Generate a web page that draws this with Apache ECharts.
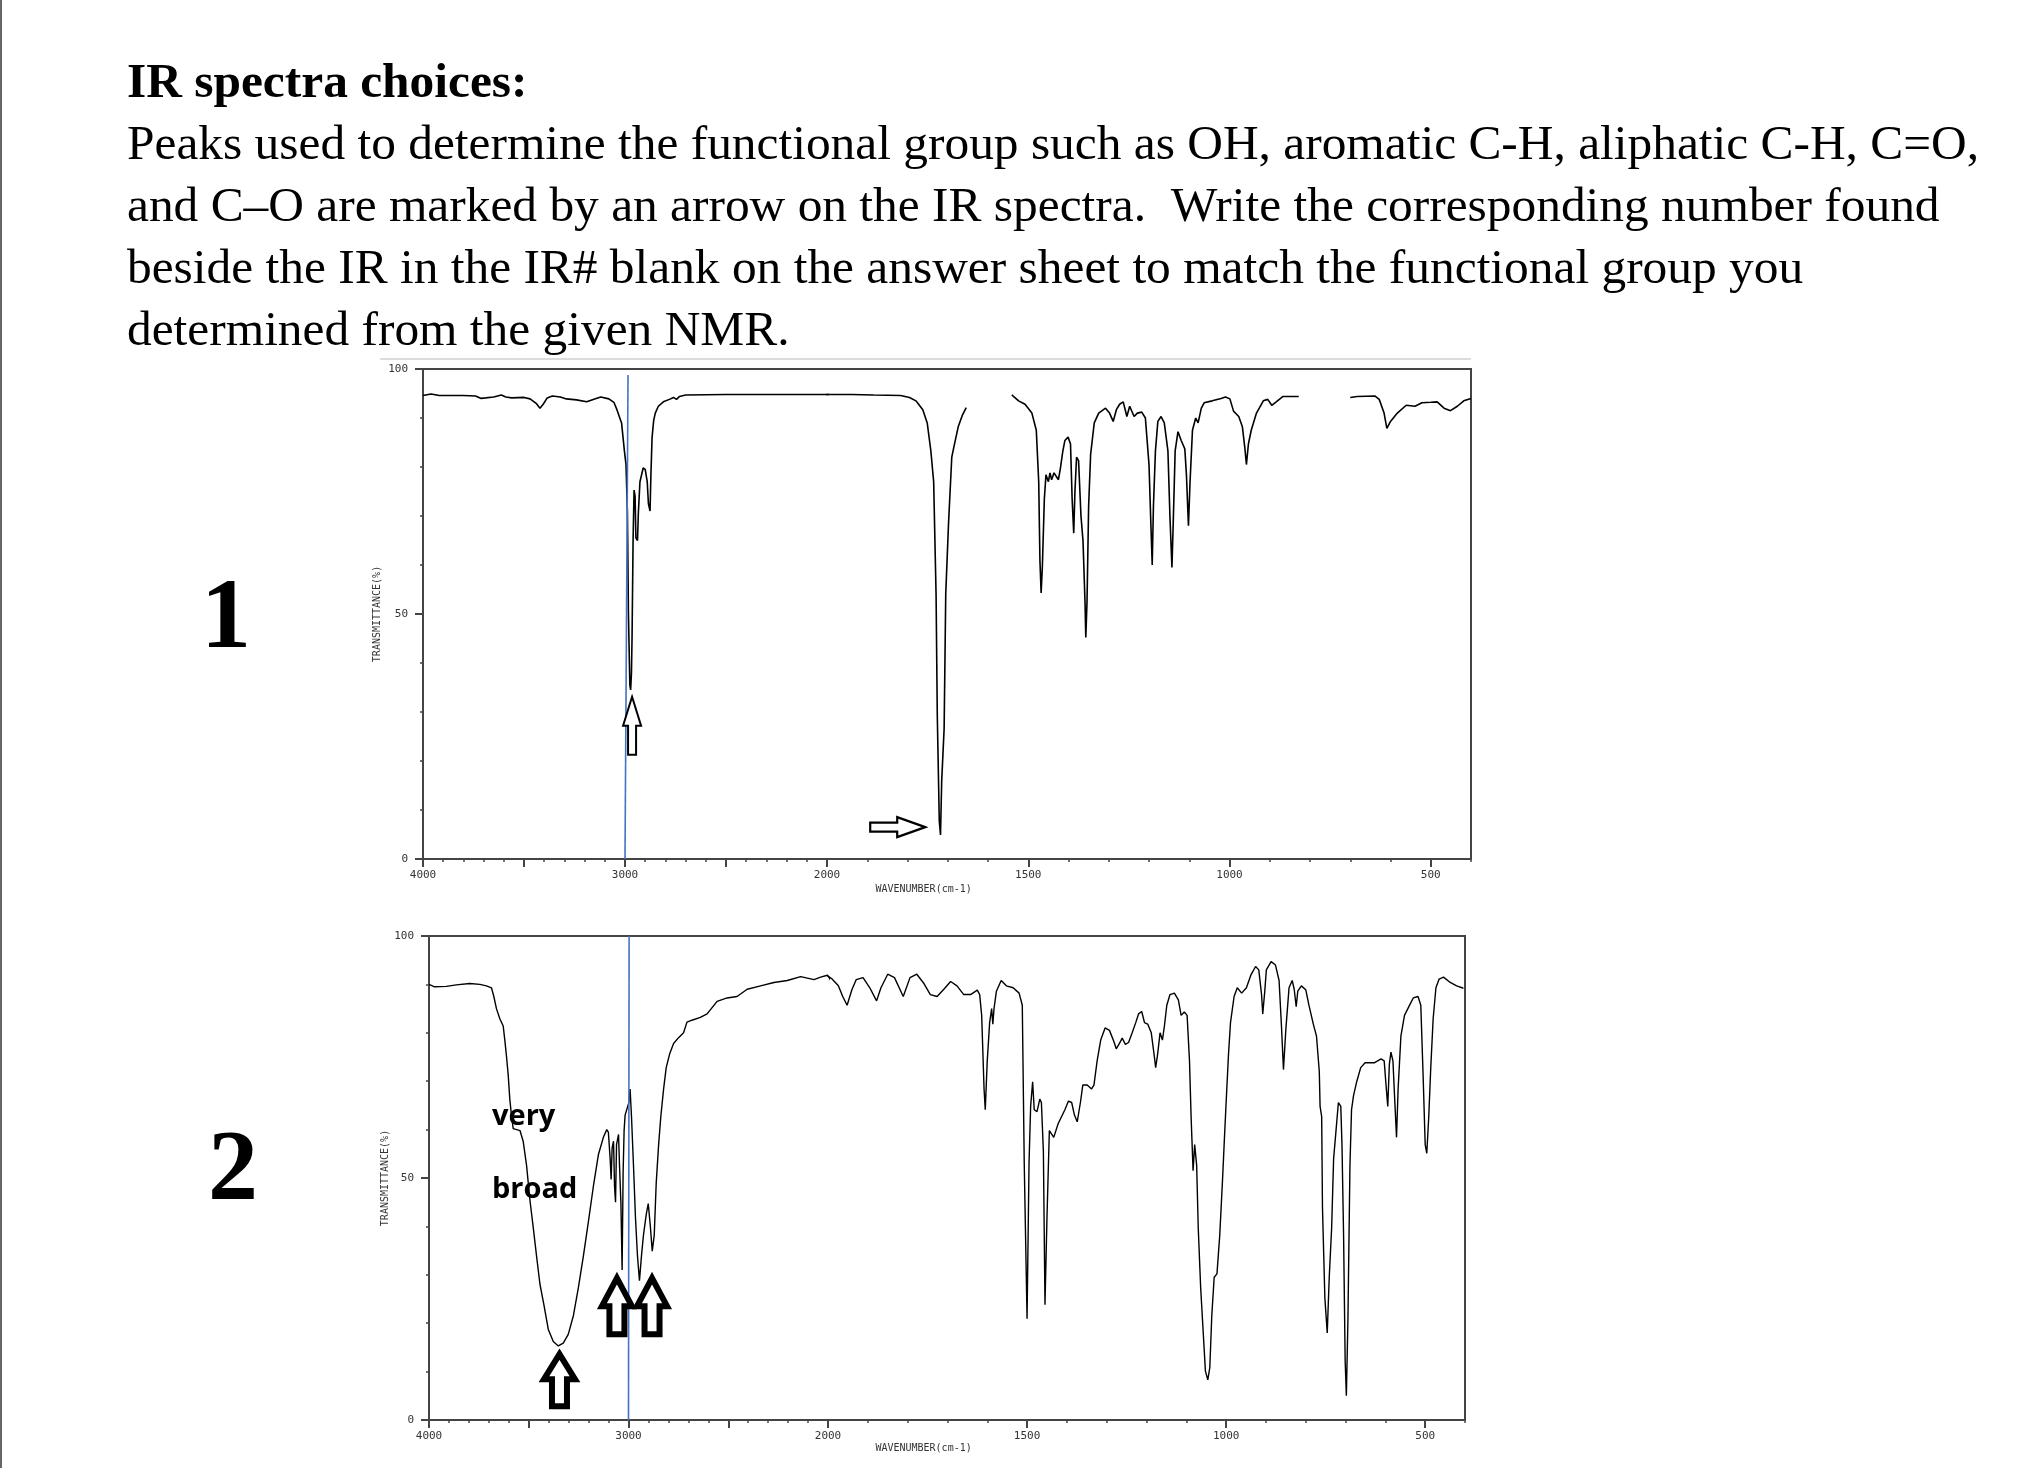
<!DOCTYPE html>
<html><head><meta charset="utf-8">
<script src="https://cdn.jsdelivr.net/npm/echarts@6/dist/echarts.min.js"></script>
<style>html,body{margin:0;padding:0;background:#fff}#c{width:2024px;height:1468px}</style>
</head><body><div id="c"></div>
<script>
// ---------------- DATA ----------------
// IR spectrum 1 (wavenumber cm-1, %T); null = gap in trace
const ir1Wavenumber = [4000,3960,3920,3800,3740,3712,3690,3650,3612,3590,3560,3500,3470,3440,3421,3405,3385,3360,3320,3290,3240,3190,3150,3120,3080,3055,3040,3017,3003,2995,2988,2983,2976,2972,2968,2965,2960,2955,2950,2946,2938,2934,2926,2910,2900,2890,2884,2876,2872,2866,2858,2850,2835,2810,2780,2760,2745,2730,2700,2500,2300,2100,2000,
1939,1884,1817,1795,1779,1762,1751,1742,1735,1729,1726,1721,1718,1715,1709,1705,1698,1690,1685,1674,1663,1654,1600,
1541,1524,1508,1491,1480,1474,1471,1468,1465,1460,1456,1450,1446,1442,1436,1425,1420,1414,1409,1401,1395,1391,1387,1384,1380,1375,1369,1364,1359,1357,1354,1350,1345,1336,1325,1308,1298,1289,1281,1273,1264,1255,1248,1237,1229,1218,1209,1200,1196,1192,1189,1184,1178,1170,1162,1153,1148,1143,1140,1135,1128,1120,1111,1107,1102,1098,1092,1084,1078,1070,1063,1043,1021,1010,999,990,977,968,962,958,953,946,933,916,905,895,884,867,828,770,
700,683,639,628,616,609,600,583,561,539,522,500,484,467,451,434,418,400];
const ir1Transmittance = [94.6,94.9,94.6,94.6,94.5,94.0,94.1,94.3,94.7,94.3,94.1,94.2,93.9,93.0,92.0,92.8,94.1,94.5,94.3,93.9,93.7,93.3,93.9,94.3,93.9,93.2,91.7,89.0,83.3,80.5,70.7,50.0,35.5,34.5,38.0,45.5,65.0,75.3,74.0,65.5,65.0,70.5,77.0,79.8,79.5,77.0,72.5,71.0,78.0,86.0,89.5,91.0,92.4,93.3,93.8,94.2,93.8,94.4,94.7,94.8,94.8,94.8,94.8,
94.8,94.7,94.6,94.2,93.5,91.7,89.0,83.3,77.0,54.0,29.4,7.7,4.9,16.0,26.6,54.0,68.6,82.0,84.0,88.2,90.7,92.1,null,
94.7,93.5,92.8,91.0,87.5,77.0,61.0,54.3,59.5,73.5,78.4,77.0,78.8,77.4,78.8,77.4,79.8,83.3,85.4,86.1,84.7,73.5,66.5,75.0,82.0,81.3,70.0,65.0,52.5,45.2,52.5,72.0,82.6,89.0,91.0,92.0,91.0,89.3,91.7,92.8,93.3,90.3,92.4,90.3,91.0,91.2,90.0,80.5,70.0,60.0,72.0,83.3,89.3,90.3,89.0,83.3,70.0,59.5,68.0,83.3,87.2,85.4,83.7,78.4,68.0,77.0,87.5,90.0,89.0,92.0,93.1,93.5,94.0,94.3,93.9,91.4,90.3,88.2,84.0,80.5,84.7,87.5,91.0,93.5,93.8,92.6,93.3,94.4,94.4,null,
94.2,94.4,94.5,93.8,91.0,87.9,89.3,91.0,92.6,92.4,93.1,93.2,93.3,92.0,91.5,92.4,93.5,94.0];

// IR spectrum 2
const ir2Wavenumber = [4000,3972,3913,3863,3796,3745,3712,3687,3675,3662,3645,3628,3620,3611,3603,3595,3586,3578,3570,3544,3528,3511,3494,3477,3461,3444,3424,3402,3377,3352,3327,3302,3276,3251,3226,3201,3176,3151,3126,3109,3101,3092,3087,3082,3075,3070,3065,3060,3050,3045,3038,3032,3027,3022,3017,3008,2998,2992,2985,2975,2965,2955,2945,2935,2925,2911,2901,2891,2881,2871,2861,2849,2838,2824,2811,2794,2774,2749,2724,2707,2682,2640,2606,2556,2506,2456,2405,2338,2271,2204,2137,2070,2037,2003,
1991,1974,1963,1952,1940,1929,1912,1895,1878,1867,1850,1833,1811,1794,1777,1760,1743,1726,1709,1692,1676,1659,1642,1625,1619,1614,1608,1605,1600,1594,1589,1586,1583,1577,1565,1552,1535,1520,1512,1507,1500,1495,1491,1486,1482,1475,1468,1464,1459,1455,1450,1444,1439,1433,1422,1405,1396,1388,1381,1374,1366,1360,1349,1338,1332,1324,1315,1304,1293,1282,1276,1268,1261,1253,1245,1236,1227,1220,1212,1205,1197,1188,1180,1177,1172,1166,1160,1155,1149,1141,1130,1120,1113,1105,1098,1092,1088,1083,1079,1074,1070,1064,1059,1052,1046,1041,1036,1030,1023,1016,1009,1005,1000,994,989,980,972,961,949,938,926,918,911,908,903,899,887,876,867,861,856,850,842,834,829,824,820,811,800,792,781,773,766,764,760,758,752,746,741,735,730,724,718,712,709,705,701,698,694,689,685,680,672,662,651,628,611,603,599,594,590,586,581,577,572,568,561,552,541,530,518,511,505,500,496,491,486,480,473,465,454,437,421,404];
const ir2Transmittance = [90.0,89.5,89.6,89.9,90.2,90.0,89.7,89.3,87.5,85.0,82.9,81.4,78.5,74.9,71.3,66.3,62.7,60.2,59.8,59.8,57.6,52.6,45.4,39.6,33.9,28.1,23.8,18.7,16.2,15.3,15.9,17.7,21.6,27.4,33.9,41.0,48.3,54.8,58.4,60.0,59.5,54.0,49.7,56.2,57.6,48.3,45.0,56.9,59.0,52.6,44.7,31.0,51.2,59.8,63.0,63.2,65.6,68.4,62.7,52.6,41.8,33.9,28.8,33.9,38.2,42.5,44.7,40.3,34.9,38.2,49.0,56.9,62.7,68.4,72.8,75.6,77.8,79.0,80.0,82.2,82.6,83.2,83.9,86.5,87.2,87.5,89.0,89.7,90.4,90.8,91.6,91.0,91.5,91.9,
91.2,89.7,87.5,85.7,88.9,91.0,91.4,89.3,86.6,89.3,92.1,91.4,87.5,91.4,92.1,90.3,87.9,87.5,89.0,90.6,89.7,87.9,87.9,88.8,87.9,83.6,68.4,64.1,74.2,82.1,85.0,81.8,85.0,88.6,90.8,89.7,89.3,88.2,85.7,52.6,20.9,53.3,64.8,69.9,64.1,63.7,66.3,65.6,55.5,23.8,41.8,59.8,60.2,58.4,61.2,64.1,65.9,65.6,63.0,61.6,65.6,69.2,69.2,68.4,69.2,74.2,78.5,81.0,80.5,78.2,76.7,77.8,78.9,77.6,78.0,80.0,82.1,83.9,84.4,82.1,81.8,80.0,74.9,72.8,75.6,80.0,78.5,81.4,85.7,87.9,88.2,86.8,83.6,84.3,83.6,74.2,62.7,51.5,56.9,52.6,39.6,27.4,20.2,10.1,8.3,10.8,21.6,29.5,30.2,38.2,49.7,56.9,65.6,75.6,82.1,87.5,89.3,88.2,89.3,91.9,93.7,93.0,87.9,83.9,88.5,93.0,94.7,94.0,90.8,81.4,72.4,80.7,89.3,90.8,89.0,85.4,88.6,89.7,88.9,85.7,81.8,79.3,72.0,64.8,62.7,43.9,25.2,18.0,29.5,39.6,54.0,59.8,65.6,64.8,56.9,38.2,12.2,5.0,20.9,52.6,64.1,67.0,69.9,72.8,73.8,73.8,74.6,74.2,69.9,64.8,73.5,76.0,74.2,67.0,58.4,68.4,79.3,83.6,85.4,87.2,87.5,85.7,70.6,56.9,55.1,62.7,72.8,82.9,89.3,91.1,91.5,90.4,89.7,89.2];

// axis ticks / labels
const xLabelsLeft = [4000, 3000, 2000];
const xLabelsRight = [1500, 1000, 500];
const xMajorTicksLeft = [4000, 3500, 3000, 2500, 2000];
const xMajorTicksRight = [2000, 1500, 1000, 500];
const yLabels = [0, 50, 100];
const yMajorTicks = [0, 50, 100];

// blue reference lines (wavenumber, %T endpoints)
const blueLine1 = [[2985, 98.8], [3000, 0]];
const blueLine2 = [[2997, 100], [3000, 0]];

// arrow tips (wavenumber, %T)
const arrowTips1Up = [[2965, 33.1]];
const arrowTips1Right = [[1756, 6.5]];
const arrowTips2Up = [[3346, 13.6], [3058, 29.3], [2882, 29.3]];

// texts
const titleLines = [
  'IR spectra choices:',
  'Peaks used to determine the functional group such as OH, aromatic C-H, aliphatic C-H, C=O,',
  'and C\u2013O are marked by an arrow on the IR spectra.  Write the corresponding number found',
  'beside the IR in the IR# blank on the answer sheet to match the functional group you',
  'determined from the given NMR.'
];
const spectrumNumbers = ['1', '2'];
const yAxisName = 'TRANSMITTANCE(%)';
const xAxisName = 'WAVENUMBER(cm-1)';
const noteWords = ['very', 'broad'];

// ---------------- CHART ----------------
const chart = echarts.init(document.getElementById('c'), null, {renderer: 'canvas', width: 2024, height: 1468});
const AX = '#444';
const LABEL_FONT = 'DejaVu Sans Mono';
const layouts = [
  {left: 423, top: 369, split: 827, right: 1471, bottom: 859, nameGap: 41, lw: 1.6},
  {left: 429, top: 936, split: 828, right: 1465, bottom: 1420, nameGap: 39, lw: 1.4}
];
const spectra = [
  ir1Wavenumber.map((w, i) => [w, ir1Transmittance[i]]),
  ir2Wavenumber.map((w, i) => [w, ir2Transmittance[i]])
];
const blues = [blueLine1, blueLine2];
const plainNum = v => String(v);

const grid = [], xAxis = [], yAxis = [], series = [];
const refs = [];
layouts.forEach((L, c) => {
  const h = L.bottom - L.top;
  const gF = grid.length;
  grid.push({left: L.left, top: L.top, width: L.right - L.left, height: h, show: true, borderColor: AX, borderWidth: 2, backgroundColor: 'transparent'});
  xAxis.push({gridIndex: gF, type: 'value', show: false, min: 0, max: 1});
  yAxis.push({gridIndex: gF, type: 'value', show: false, min: 0, max: 1});
  const segs = [
    {left: L.left, width: L.split - L.left, min: 2000, max: 4000, ticks: xMajorTicksLeft, labels: xLabelsLeft, isLeft: true},
    {left: L.split, width: L.right - L.split, min: 400, max: 2000, ticks: xMajorTicksRight, labels: xLabelsRight, isLeft: false}
  ];
  const ref = {};
  segs.forEach(s => {
    const g = grid.length;
    grid.push({left: s.left, top: L.top, width: s.width, height: h});
    const xi = xAxis.length;
    xAxis.push({
      gridIndex: g, type: 'value', min: s.min, max: s.max, inverse: true, position: 'bottom',
      axisLine: {show: true, onZero: false, lineStyle: {color: AX, width: 2}},
      axisTick: {show: true, customValues: s.ticks, length: 8, lineStyle: {color: AX, width: 2}},
      axisLabel: {show: true, customValues: s.labels, formatter: plainNum, margin: 11, fontFamily: LABEL_FONT, fontSize: 11, color: '#333'},
      splitLine: {show: false}
    });
    xAxis.push({
      gridIndex: g, type: 'value', min: s.min, max: s.max, inverse: true, position: 'bottom', interval: 100,
      axisLine: {show: false}, axisTick: {show: true, length: 3, lineStyle: {color: AX, width: 1.5}},
      axisLabel: {show: false}, splitLine: {show: false}
    });
    let yi;
    if (s.isLeft) {
      yi = yAxis.length;
      yAxis.push({
        gridIndex: g, type: 'value', min: 0, max: 100, position: 'left',
        axisLine: {show: true, onZero: false, lineStyle: {color: AX, width: 2}},
        axisTick: {show: true, customValues: yMajorTicks, length: 8, lineStyle: {color: AX, width: 2}},
        axisLabel: {show: true, customValues: yLabels, formatter: plainNum, margin: 15, fontFamily: LABEL_FONT, fontSize: 11, color: '#333'},
        splitLine: {show: false},
        name: yAxisName, nameLocation: 'middle', nameGap: L.nameGap, nameRotate: 90,
        nameTextStyle: {fontFamily: LABEL_FONT, fontSize: 10, color: '#333'}
      });
      yAxis.push({
        gridIndex: g, type: 'value', min: 0, max: 100, position: 'left', interval: 10,
        axisLine: {show: false}, axisTick: {show: true, length: 3, lineStyle: {color: AX, width: 1.5}},
        axisLabel: {show: false}, splitLine: {show: false}
      });
      ref.left = {x: xi, y: yi};
    } else {
      yi = yAxis.length;
      yAxis.push({gridIndex: g, type: 'value', min: 0, max: 100, show: false, splitLine: {show: false}});
      ref.right = {x: xi, y: yi};
    }
    const ser = {
      type: 'line', xAxisIndex: xi, yAxisIndex: yi, data: spectra[c],
      showSymbol: false, symbol: 'none', clip: true, silent: true, animation: false,
      lineStyle: {color: '#000', width: L.lw}, connectNulls: false
    };
    if (s.isLeft) {
      ser.markLine = {
        symbol: ['none', 'none'], silent: true, animation: false, label: {show: false},
        lineStyle: {color: '#4472C4', width: 1.6, type: 'solid'},
        data: [[{coord: blues[c][0]}, {coord: blues[c][1]}]]
      };
    }
    series.push(ser);
  });
  refs.push(ref);
});

chart.setOption({animation: false, backgroundColor: '#fff', grid, xAxis, yAxis, series});

// ---------------- ANNOTATIONS ----------------
function px(c, side, pt) {
  const r = refs[c][side];
  return chart.convertToPixel({xAxisIndex: r.x, yAxisIndex: r.y}, pt);
}
function upArrow(tip, headH, headHalf, shaftHalf, total, lw) {
  const [x, y] = tip;
  return {type: 'polygon', z: 100, shape: {points: [
    [x, y], [x + headHalf, y + headH], [x + shaftHalf, y + headH], [x + shaftHalf, y + total],
    [x - shaftHalf, y + total], [x - shaftHalf, y + headH], [x - headHalf, y + headH]]},
    style: {fill: '#fff', stroke: '#000', lineWidth: lw, lineJoin: 'miter'}};
}
function rightArrow(tip, headW, headHalf, shaftHalf, total, lw) {
  const [x, y] = tip;
  return {type: 'polygon', z: 100, shape: {points: [
    [x, y], [x - headW, y - headHalf], [x - headW, y - shaftHalf], [x - total, y - shaftHalf],
    [x - total, y + shaftHalf], [x - headW, y + shaftHalf], [x - headW, y + headHalf]]},
    style: {fill: '#fff', stroke: '#000', lineWidth: lw, lineJoin: 'miter'}};
}

const graphic = [];
graphic.push({type: 'line', shape: {x1: 1, y1: 0, x2: 1, y2: 1468}, style: {stroke: '#666', lineWidth: 2}});
graphic.push({type: 'line', shape: {x1: 380, y1: 359, x2: 1471, y2: 359}, style: {stroke: '#dcdcdc', lineWidth: 2}});

const titleCenters = [84, 146, 208, 270, 332];
titleLines.forEach((t, i) => {
  graphic.push({type: 'text', x: 127, y: titleCenters[i], style: {
    text: t, font: (i === 0 ? 'bold ' : '') + '49.4px "Liberation Serif", "Times New Roman", serif',
    fill: '#000', textAlign: 'left', textVerticalAlign: 'middle'}});
});
const numberPos = [[226, 621], [233, 1172]];
spectrumNumbers.forEach((n, i) => {
  graphic.push({type: 'text', x: numberPos[i][0], y: numberPos[i][1], style: {
    text: n, font: 'bold 100px "Liberation Serif", serif', fill: '#000', textAlign: 'center', textVerticalAlign: 'middle'}});
});
const notePos = [[492, 1117], [492, 1190]];
noteWords.forEach((w, i) => {
  graphic.push({type: 'text', x: notePos[i][0], y: notePos[i][1], z: 100, style: {
    text: w, font: 'bold 29px "Open Sans", sans-serif', fill: '#000', textAlign: 'left', textVerticalAlign: 'middle'}});
});
// x axis names
[[0, 889], [1, 1448]].forEach(([c, y]) => {
  const p = px(c, 'right', [1760, 50]);
  graphic.push({type: 'text', x: p[0], y: y, style: {
    text: xAxisName, font: '10px "DejaVu Sans Mono"', fill: '#333', textAlign: 'center', textVerticalAlign: 'middle'}});
});
// arrows
arrowTips1Up.forEach(t => graphic.push(upArrow(px(0, 'left', t), 29, 9, 4, 58, 2)));
arrowTips1Right.forEach(t => graphic.push(rightArrow(px(0, 'right', t), 28, 10, 4.5, 55, 2.2)));
arrowTips2Up.forEach((t, i) => graphic.push(i === 0 ? upArrow(px(1, 'left', t), 25, 15.5, 7.5, 52, 6) : upArrow(px(1, 'left', t), 28, 15, 7.5, 56, 6)));

chart.setOption({graphic});
</script>
</body></html>
